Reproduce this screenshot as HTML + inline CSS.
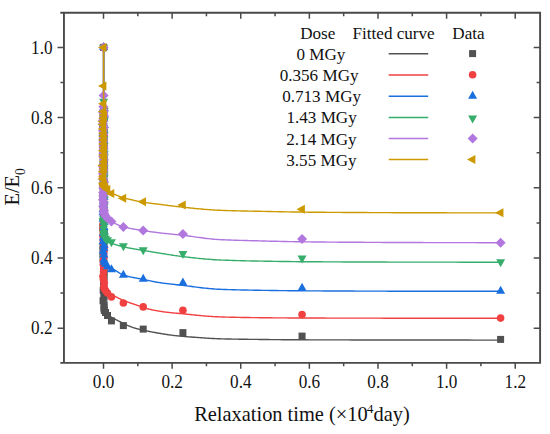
<!DOCTYPE html>
<html><head><meta charset="utf-8"><style>
html,body{margin:0;padding:0;background:#fff;width:550px;height:434px;overflow:hidden}
svg{display:block}
text{font-family:"Liberation Serif",serif}
</style></head><body>
<svg width="550" height="434" viewBox="0 0 550 434">
<rect width="550" height="434" fill="#fff"/>
<g><path d="M103.60 47.40 L103.60 305.50 L103.90 306.00 L103.91 306.03 L103.91 306.06 L103.92 306.09 L103.93 306.12 L103.94 306.16 L103.94 306.19 L103.95 306.22 L103.96 306.26 L103.97 306.29 L103.98 306.32 L103.98 306.36 L103.99 306.40 L104.00 306.43 L104.01 306.47 L104.02 306.51 L104.03 306.54 L104.04 306.58 L104.05 306.62 L104.06 306.66 L104.07 306.70 L104.08 306.74 L104.09 306.78 L104.10 306.82 L104.11 306.86 L104.12 306.90 L104.13 306.94 L104.14 306.99 L104.15 307.03 L104.16 307.07 L104.17 307.12 L104.18 307.16 L104.20 307.20 L104.21 307.25 L104.22 307.29 L104.23 307.34 L104.25 307.39 L104.26 307.43 L104.27 307.48 L104.29 307.53 L104.30 307.57 L104.31 307.62 L104.33 307.67 L104.34 307.72 L104.36 307.77 L104.37 307.82 L104.39 307.87 L104.40 307.92 L104.42 307.97 L104.43 308.02 L104.45 308.07 L104.47 308.12 L104.48 308.17 L104.50 308.22 L104.52 308.28 L104.54 308.33 L104.55 308.38 L104.57 308.43 L104.59 308.49 L104.61 308.54 L104.63 308.59 L104.65 308.65 L104.67 308.70 L104.69 308.76 L104.71 308.81 L104.73 308.87 L104.75 308.92 L104.77 308.98 L104.80 309.03 L104.82 309.09 L104.84 309.15 L104.87 309.20 L104.89 309.26 L104.91 309.32 L104.94 309.37 L104.96 309.43 L104.99 309.49 L105.01 309.55 L105.04 309.61 L105.07 309.66 L105.10 309.72 L105.12 309.78 L105.15 309.84 L105.18 309.90 L105.21 309.96 L105.24 310.02 L105.27 310.08 L105.30 310.14 L105.33 310.20 L105.36 310.26 L105.40 310.32 L105.43 310.38 L105.46 310.44 L105.50 310.50 L105.53 310.56 L105.57 310.62 L105.60 310.68 L105.64 310.75 L105.68 310.81 L105.72 310.88 L105.76 310.94 L105.79 311.01 L105.83 311.08 L105.88 311.15 L105.92 311.22 L105.96 311.29 L106.00 311.36 L106.05 311.43 L106.09 311.50 L106.13 311.58 L106.18 311.65 L106.23 311.73 L106.28 311.80 L106.32 311.88 L106.37 311.95 L106.42 312.03 L106.47 312.11 L106.53 312.19 L106.58 312.27 L106.63 312.34 L106.69 312.42 L106.74 312.50 L106.80 312.58 L106.86 312.67 L106.92 312.75 L106.97 312.83 L107.04 312.91 L107.10 312.99 L107.16 313.07 L107.22 313.16 L107.29 313.24 L107.35 313.32 L107.42 313.41 L107.49 313.49 L107.56 313.57 L107.63 313.66 L107.70 313.74 L107.78 313.83 L107.85 313.92 L107.93 314.01 L108.00 314.10 L108.08 314.19 L108.16 314.28 L108.24 314.37 L108.33 314.47 L108.41 314.56 L108.50 314.65 L108.58 314.75 L108.67 314.84 L108.76 314.94 L108.85 315.04 L108.95 315.13 L109.04 315.23 L109.14 315.33 L109.24 315.43 L109.34 315.52 L109.44 315.62 L109.54 315.72 L109.65 315.82 L109.76 315.91 L109.87 316.01 L109.98 316.11 L110.09 316.21 L110.20 316.30 L110.32 316.40 L110.44 316.50 L110.56 316.59 L110.68 316.69 L110.81 316.78 L110.94 316.88 L111.07 316.97 L111.20 317.06 L111.33 317.15 L111.47 317.25 L111.61 317.34 L111.75 317.42 L111.89 317.51 L112.04 317.60 L112.19 317.68 L112.34 317.77 L112.50 317.86 L112.65 317.94 L112.81 318.03 L112.97 318.11 L113.14 318.20 L113.31 318.28 L113.48 318.37 L113.65 318.46 L113.83 318.55 L114.01 318.64 L114.19 318.74 L114.38 318.83 L114.57 318.93 L114.76 319.03 L114.96 319.13 L115.16 319.24 L115.36 319.34 L115.57 319.45 L115.78 319.56 L115.99 319.67 L116.21 319.78 L116.43 319.90 L116.66 320.01 L116.89 320.13 L117.12 320.25 L117.36 320.37 L117.60 320.50 L117.85 320.62 L118.10 320.75 L118.35 320.88 L118.61 321.01 L118.88 321.14 L119.14 321.27 L119.42 321.41 L119.70 321.55 L119.98 321.69 L120.27 321.83 L120.56 321.98 L120.86 322.13 L121.16 322.29 L121.47 322.45 L121.78 322.61 L122.10 322.78 L122.42 322.95 L122.75 323.13 L123.09 323.30 L123.43 323.48 L123.78 323.66 L124.13 323.84 L124.49 324.02 L124.86 324.20 L125.23 324.37 L125.61 324.55 L126.00 324.73 L126.39 324.91 L126.79 325.08 L127.19 325.26 L127.61 325.43 L128.03 325.61 L128.46 325.79 L128.89 325.97 L129.33 326.15 L129.78 326.33 L130.24 326.51 L130.71 326.69 L131.18 326.86 L131.67 327.04 L132.16 327.21 L132.66 327.39 L133.17 327.56 L133.68 327.72 L134.21 327.89 L134.75 328.06 L135.29 328.22 L135.85 328.38 L136.41 328.55 L136.98 328.71 L137.57 328.87 L138.16 329.03 L138.77 329.19 L139.38 329.35 L140.01 329.50 L140.65 329.66 L141.29 329.81 L141.95 329.96 L142.62 330.11 L143.31 330.26 L144.00 330.41 L144.71 330.55 L145.43 330.70 L146.16 330.85 L146.90 331.00 L147.66 331.15 L148.43 331.30 L149.21 331.45 L150.01 331.60 L150.82 331.76 L151.65 331.91 L152.49 332.07 L153.34 332.23 L154.21 332.39 L155.10 332.55 L156.00 332.71 L156.91 332.88 L157.84 333.04 L158.79 333.20 L159.76 333.36 L160.74 333.52 L161.74 333.69 L162.75 333.85 L163.79 334.02 L164.84 334.19 L165.91 334.35 L167.00 334.52 L168.10 334.69 L169.23 334.85 L170.38 335.01 L171.54 335.17 L172.73 335.33 L173.94 335.47 L175.17 335.62 L176.42 335.76 L177.69 335.89 L178.98 336.03 L180.30 336.15 L181.64 336.28 L183.00 336.40 L184.39 336.52 L185.80 336.63 L187.24 336.74 L188.70 336.85 L190.18 336.96 L191.70 337.07 L193.24 337.18 L194.80 337.29 L196.39 337.40 L198.01 337.51 L199.66 337.64 L201.34 337.76 L203.05 337.88 L204.78 338.00 L206.55 338.13 L208.35 338.24 L210.18 338.36 L212.04 338.46 L213.93 338.56 L215.86 338.65 L217.82 338.73 L219.81 338.79 L221.84 338.85 L223.91 338.90 L226.01 338.95 L228.14 339.00 L230.32 339.04 L232.53 339.09 L234.78 339.13 L237.07 339.16 L239.40 339.20 L241.77 339.23 L244.18 339.27 L246.64 339.30 L249.14 339.33 L251.68 339.36 L254.26 339.39 L256.89 339.42 L259.57 339.45 L262.29 339.48 L265.06 339.52 L267.88 339.55 L270.75 339.58 L273.66 339.60 L276.63 339.63 L279.65 339.66 L282.73 339.68 L285.85 339.71 L289.03 339.73 L292.27 339.75 L295.56 339.77 L298.91 339.79 L302.32 339.80 L305.79 339.81 L309.32 339.83 L312.91 339.84 L316.56 339.85 L320.28 339.86 L324.06 339.87 L327.91 339.88 L331.82 339.89 L335.81 339.90 L339.86 339.91 L343.98 339.91 L348.18 339.92 L352.45 339.93 L356.79 339.94 L361.21 339.94 L365.70 339.95 L370.28 339.96 L374.93 339.97 L379.67 339.97 L384.48 339.98 L389.39 339.99 L394.37 339.99 L399.45 340.00 L404.61 340.01 L409.86 340.01 L415.21 340.02 L420.65 340.03 L426.18 340.03 L431.81 340.04 L437.53 340.05 L443.36 340.05 L449.29 340.06 L455.32 340.06 L461.46 340.07 L467.70 340.07 L474.06 340.08 L480.52 340.09 L487.10 340.09 L493.79 340.10 L500.60 340.10" fill="none" stroke="#515151" stroke-width="1.4" stroke-linejoin="round"/>
<rect x="100.10" y="43.90" width="7" height="7" fill="#515151"/>
<rect x="100.17" y="106.83" width="7" height="7" fill="#515151"/>
<rect x="99.81" y="110.12" width="7" height="7" fill="#515151"/>
<rect x="100.65" y="114.33" width="7" height="7" fill="#515151"/>
<rect x="99.58" y="116.83" width="7" height="7" fill="#515151"/>
<rect x="99.47" y="120.81" width="7" height="7" fill="#515151"/>
<rect x="99.44" y="124.43" width="7" height="7" fill="#515151"/>
<rect x="100.31" y="127.75" width="7" height="7" fill="#515151"/>
<rect x="100.35" y="131.85" width="7" height="7" fill="#515151"/>
<rect x="99.43" y="135.39" width="7" height="7" fill="#515151"/>
<rect x="99.76" y="138.76" width="7" height="7" fill="#515151"/>
<rect x="99.80" y="142.81" width="7" height="7" fill="#515151"/>
<rect x="100.02" y="145.55" width="7" height="7" fill="#515151"/>
<rect x="100.16" y="150.15" width="7" height="7" fill="#515151"/>
<rect x="99.83" y="152.86" width="7" height="7" fill="#515151"/>
<rect x="99.94" y="157.60" width="7" height="7" fill="#515151"/>
<rect x="100.77" y="160.78" width="7" height="7" fill="#515151"/>
<rect x="100.66" y="164.65" width="7" height="7" fill="#515151"/>
<rect x="99.93" y="167.05" width="7" height="7" fill="#515151"/>
<rect x="100.31" y="171.39" width="7" height="7" fill="#515151"/>
<rect x="99.91" y="174.46" width="7" height="7" fill="#515151"/>
<rect x="99.97" y="178.45" width="7" height="7" fill="#515151"/>
<rect x="99.78" y="181.77" width="7" height="7" fill="#515151"/>
<rect x="100.04" y="186.28" width="7" height="7" fill="#515151"/>
<rect x="100.22" y="188.95" width="7" height="7" fill="#515151"/>
<rect x="99.79" y="192.83" width="7" height="7" fill="#515151"/>
<rect x="99.69" y="196.02" width="7" height="7" fill="#515151"/>
<rect x="100.12" y="199.44" width="7" height="7" fill="#515151"/>
<rect x="100.08" y="203.48" width="7" height="7" fill="#515151"/>
<rect x="100.39" y="207.69" width="7" height="7" fill="#515151"/>
<rect x="100.37" y="211.20" width="7" height="7" fill="#515151"/>
<rect x="99.92" y="214.77" width="7" height="7" fill="#515151"/>
<rect x="99.88" y="218.22" width="7" height="7" fill="#515151"/>
<rect x="99.86" y="221.61" width="7" height="7" fill="#515151"/>
<rect x="99.49" y="224.89" width="7" height="7" fill="#515151"/>
<rect x="100.76" y="228.47" width="7" height="7" fill="#515151"/>
<rect x="100.37" y="232.74" width="7" height="7" fill="#515151"/>
<rect x="100.41" y="236.06" width="7" height="7" fill="#515151"/>
<rect x="100.24" y="239.01" width="7" height="7" fill="#515151"/>
<rect x="99.50" y="242.82" width="7" height="7" fill="#515151"/>
<rect x="99.61" y="246.26" width="7" height="7" fill="#515151"/>
<rect x="99.58" y="250.59" width="7" height="7" fill="#515151"/>
<rect x="99.66" y="254.82" width="7" height="7" fill="#515151"/>
<rect x="100.35" y="257.77" width="7" height="7" fill="#515151"/>
<rect x="100.39" y="260.92" width="7" height="7" fill="#515151"/>
<rect x="100.70" y="265.44" width="7" height="7" fill="#515151"/>
<rect x="100.42" y="268.47" width="7" height="7" fill="#515151"/>
<rect x="100.58" y="272.49" width="7" height="7" fill="#515151"/>
<rect x="100.32" y="276.36" width="7" height="7" fill="#515151"/>
<rect x="100.29" y="279.09" width="7" height="7" fill="#515151"/>
<rect x="100.17" y="282.41" width="7" height="7" fill="#515151"/>
<rect x="99.67" y="286.86" width="7" height="7" fill="#515151"/>
<rect x="100.50" y="290.86" width="7" height="7" fill="#515151"/>
<rect x="100.59" y="293.77" width="7" height="7" fill="#515151"/>
<rect x="99.53" y="297.28" width="7" height="7" fill="#515151"/>
<rect x="100.70" y="301.36" width="7" height="7" fill="#515151"/>
<rect x="100.40" y="304.50" width="7" height="7" fill="#515151"/>
<rect x="100.80" y="307.00" width="7" height="7" fill="#515151"/>
<rect x="102.00" y="309.00" width="7" height="7" fill="#515151"/>
<rect x="104.00" y="312.00" width="7" height="7" fill="#515151"/>
<rect x="107.94" y="317.40" width="7" height="7" fill="#515151"/>
<rect x="119.86" y="322.10" width="7" height="7" fill="#515151"/>
<rect x="139.71" y="325.60" width="7" height="7" fill="#515151"/>
<rect x="179.42" y="329.10" width="7" height="7" fill="#515151"/>
<rect x="298.55" y="332.60" width="7" height="7" fill="#515151"/>
<rect x="497.11" y="335.90" width="7" height="7" fill="#515151"/>
<path d="M103.60 47.40 L103.60 286.50 L103.90 287.00 L103.91 287.01 L103.91 287.03 L103.92 287.05 L103.93 287.06 L103.94 287.08 L103.94 287.10 L103.95 287.12 L103.96 287.13 L103.97 287.15 L103.98 287.17 L103.98 287.19 L103.99 287.21 L104.00 287.23 L104.01 287.25 L104.02 287.28 L104.03 287.30 L104.04 287.32 L104.05 287.34 L104.06 287.37 L104.07 287.39 L104.08 287.42 L104.09 287.44 L104.10 287.47 L104.11 287.49 L104.12 287.52 L104.13 287.55 L104.14 287.57 L104.15 287.60 L104.16 287.63 L104.17 287.66 L104.18 287.68 L104.20 287.71 L104.21 287.74 L104.22 287.77 L104.23 287.80 L104.25 287.83 L104.26 287.86 L104.27 287.89 L104.29 287.92 L104.30 287.96 L104.31 287.99 L104.33 288.02 L104.34 288.05 L104.36 288.09 L104.37 288.12 L104.39 288.15 L104.40 288.19 L104.42 288.22 L104.43 288.26 L104.45 288.29 L104.47 288.33 L104.48 288.36 L104.50 288.40 L104.52 288.43 L104.54 288.47 L104.55 288.51 L104.57 288.54 L104.59 288.58 L104.61 288.62 L104.63 288.65 L104.65 288.69 L104.67 288.73 L104.69 288.77 L104.71 288.81 L104.73 288.85 L104.75 288.88 L104.77 288.92 L104.80 288.96 L104.82 289.00 L104.84 289.04 L104.87 289.08 L104.89 289.12 L104.91 289.16 L104.94 289.20 L104.96 289.24 L104.99 289.28 L105.01 289.32 L105.04 289.37 L105.07 289.41 L105.10 289.45 L105.12 289.49 L105.15 289.53 L105.18 289.57 L105.21 289.62 L105.24 289.66 L105.27 289.70 L105.30 289.74 L105.33 289.78 L105.36 289.83 L105.40 289.87 L105.43 289.91 L105.46 289.95 L105.50 290.00 L105.53 290.04 L105.57 290.09 L105.60 290.13 L105.64 290.18 L105.68 290.23 L105.72 290.28 L105.76 290.33 L105.79 290.38 L105.83 290.43 L105.88 290.48 L105.92 290.54 L105.96 290.59 L106.00 290.65 L106.05 290.70 L106.09 290.76 L106.13 290.82 L106.18 290.88 L106.23 290.94 L106.28 291.00 L106.32 291.06 L106.37 291.12 L106.42 291.18 L106.47 291.24 L106.53 291.30 L106.58 291.36 L106.63 291.42 L106.69 291.49 L106.74 291.55 L106.80 291.61 L106.86 291.67 L106.92 291.74 L106.97 291.80 L107.04 291.86 L107.10 291.92 L107.16 291.99 L107.22 292.05 L107.29 292.11 L107.35 292.17 L107.42 292.23 L107.49 292.29 L107.56 292.35 L107.63 292.41 L107.70 292.47 L107.78 292.53 L107.85 292.59 L107.93 292.65 L108.00 292.72 L108.08 292.78 L108.16 292.84 L108.24 292.90 L108.33 292.96 L108.41 293.02 L108.50 293.08 L108.58 293.15 L108.67 293.21 L108.76 293.27 L108.85 293.33 L108.95 293.39 L109.04 293.46 L109.14 293.52 L109.24 293.58 L109.34 293.65 L109.44 293.71 L109.54 293.77 L109.65 293.84 L109.76 293.90 L109.87 293.97 L109.98 294.03 L110.09 294.10 L110.20 294.16 L110.32 294.23 L110.44 294.29 L110.56 294.36 L110.68 294.43 L110.81 294.49 L110.94 294.56 L111.07 294.63 L111.20 294.70 L111.33 294.77 L111.47 294.83 L111.61 294.90 L111.75 294.97 L111.89 295.04 L112.04 295.10 L112.19 295.17 L112.34 295.24 L112.50 295.31 L112.65 295.38 L112.81 295.44 L112.97 295.51 L113.14 295.58 L113.31 295.66 L113.48 295.73 L113.65 295.80 L113.83 295.88 L114.01 295.96 L114.19 296.04 L114.38 296.12 L114.57 296.20 L114.76 296.29 L114.96 296.38 L115.16 296.47 L115.36 296.57 L115.57 296.67 L115.78 296.77 L115.99 296.87 L116.21 296.98 L116.43 297.09 L116.66 297.20 L116.89 297.31 L117.12 297.43 L117.36 297.55 L117.60 297.67 L117.85 297.79 L118.10 297.92 L118.35 298.04 L118.61 298.17 L118.88 298.30 L119.14 298.43 L119.42 298.57 L119.70 298.70 L119.98 298.84 L120.27 298.98 L120.56 299.12 L120.86 299.26 L121.16 299.40 L121.47 299.54 L121.78 299.68 L122.10 299.82 L122.42 299.97 L122.75 300.11 L123.09 300.26 L123.43 300.40 L123.78 300.55 L124.13 300.70 L124.49 300.84 L124.86 300.99 L125.23 301.14 L125.61 301.28 L126.00 301.43 L126.39 301.58 L126.79 301.72 L127.19 301.87 L127.61 302.02 L128.03 302.16 L128.46 302.31 L128.89 302.46 L129.33 302.61 L129.78 302.76 L130.24 302.91 L130.71 303.07 L131.18 303.23 L131.67 303.39 L132.16 303.55 L132.66 303.72 L133.17 303.89 L133.68 304.06 L134.21 304.23 L134.75 304.41 L135.29 304.60 L135.85 304.79 L136.41 305.00 L136.98 305.21 L137.57 305.43 L138.16 305.65 L138.77 305.88 L139.38 306.11 L140.01 306.34 L140.65 306.58 L141.29 306.82 L141.95 307.05 L142.62 307.28 L143.31 307.51 L144.00 307.74 L144.71 307.96 L145.43 308.17 L146.16 308.38 L146.90 308.57 L147.66 308.77 L148.43 308.96 L149.21 309.14 L150.01 309.33 L150.82 309.51 L151.65 309.70 L152.49 309.88 L153.34 310.06 L154.21 310.23 L155.10 310.40 L156.00 310.58 L156.91 310.74 L157.84 310.91 L158.79 311.07 L159.76 311.23 L160.74 311.39 L161.74 311.54 L162.75 311.69 L163.79 311.84 L164.84 311.98 L165.91 312.12 L167.00 312.25 L168.10 312.38 L169.23 312.50 L170.38 312.62 L171.54 312.74 L172.73 312.85 L173.94 312.97 L175.17 313.08 L176.42 313.20 L177.69 313.31 L178.98 313.43 L180.30 313.55 L181.64 313.67 L183.00 313.80 L184.39 313.93 L185.80 314.07 L187.24 314.22 L188.70 314.37 L190.18 314.53 L191.70 314.69 L193.24 314.86 L194.80 315.02 L196.39 315.18 L198.01 315.35 L199.66 315.51 L201.34 315.67 L203.05 315.83 L204.78 315.98 L206.55 316.12 L208.35 316.26 L210.18 316.39 L212.04 316.51 L213.93 316.63 L215.86 316.73 L217.82 316.82 L219.81 316.89 L221.84 316.96 L223.91 317.03 L226.01 317.09 L228.14 317.15 L230.32 317.20 L232.53 317.26 L234.78 317.31 L237.07 317.35 L239.40 317.40 L241.77 317.44 L244.18 317.49 L246.64 317.53 L249.14 317.56 L251.68 317.60 L254.26 317.63 L256.89 317.66 L259.57 317.70 L262.29 317.72 L265.06 317.75 L267.88 317.78 L270.75 317.81 L273.66 317.83 L276.63 317.85 L279.65 317.88 L282.73 317.90 L285.85 317.92 L289.03 317.94 L292.27 317.96 L295.56 317.97 L298.91 317.99 L302.32 318.00 L305.79 318.01 L309.32 318.03 L312.91 318.04 L316.56 318.05 L320.28 318.06 L324.06 318.07 L327.91 318.08 L331.82 318.09 L335.81 318.10 L339.86 318.10 L343.98 318.11 L348.18 318.12 L352.45 318.13 L356.79 318.14 L361.21 318.14 L365.70 318.15 L370.28 318.16 L374.93 318.16 L379.67 318.17 L384.48 318.18 L389.39 318.19 L394.37 318.19 L399.45 318.20 L404.61 318.21 L409.86 318.21 L415.21 318.22 L420.65 318.23 L426.18 318.23 L431.81 318.24 L437.53 318.25 L443.36 318.25 L449.29 318.26 L455.32 318.26 L461.46 318.27 L467.70 318.27 L474.06 318.28 L480.52 318.29 L487.10 318.29 L493.79 318.30 L500.60 318.30" fill="none" stroke="#F14040" stroke-width="1.4" stroke-linejoin="round"/>
<circle cx="103.60" cy="47.40" r="3.8" fill="#F14040"/>
<circle cx="103.98" cy="109.23" r="3.8" fill="#F14040"/>
<circle cx="103.79" cy="114.00" r="3.8" fill="#F14040"/>
<circle cx="103.60" cy="116.76" r="3.8" fill="#F14040"/>
<circle cx="103.18" cy="121.22" r="3.8" fill="#F14040"/>
<circle cx="103.14" cy="123.74" r="3.8" fill="#F14040"/>
<circle cx="103.86" cy="128.73" r="3.8" fill="#F14040"/>
<circle cx="102.91" cy="131.62" r="3.8" fill="#F14040"/>
<circle cx="104.04" cy="135.38" r="3.8" fill="#F14040"/>
<circle cx="103.91" cy="138.47" r="3.8" fill="#F14040"/>
<circle cx="104.18" cy="142.74" r="3.8" fill="#F14040"/>
<circle cx="103.66" cy="145.43" r="3.8" fill="#F14040"/>
<circle cx="103.42" cy="149.88" r="3.8" fill="#F14040"/>
<circle cx="103.52" cy="153.09" r="3.8" fill="#F14040"/>
<circle cx="103.76" cy="156.82" r="3.8" fill="#F14040"/>
<circle cx="103.81" cy="160.56" r="3.8" fill="#F14040"/>
<circle cx="104.03" cy="164.03" r="3.8" fill="#F14040"/>
<circle cx="104.17" cy="167.31" r="3.8" fill="#F14040"/>
<circle cx="103.03" cy="170.88" r="3.8" fill="#F14040"/>
<circle cx="103.06" cy="175.33" r="3.8" fill="#F14040"/>
<circle cx="102.97" cy="178.60" r="3.8" fill="#F14040"/>
<circle cx="103.67" cy="182.51" r="3.8" fill="#F14040"/>
<circle cx="103.18" cy="186.17" r="3.8" fill="#F14040"/>
<circle cx="103.39" cy="189.61" r="3.8" fill="#F14040"/>
<circle cx="103.31" cy="193.41" r="3.8" fill="#F14040"/>
<circle cx="103.36" cy="195.86" r="3.8" fill="#F14040"/>
<circle cx="103.45" cy="199.35" r="3.8" fill="#F14040"/>
<circle cx="104.05" cy="203.04" r="3.8" fill="#F14040"/>
<circle cx="103.44" cy="207.91" r="3.8" fill="#F14040"/>
<circle cx="104.28" cy="210.73" r="3.8" fill="#F14040"/>
<circle cx="104.06" cy="214.00" r="3.8" fill="#F14040"/>
<circle cx="103.74" cy="218.64" r="3.8" fill="#F14040"/>
<circle cx="103.65" cy="221.74" r="3.8" fill="#F14040"/>
<circle cx="102.95" cy="224.97" r="3.8" fill="#F14040"/>
<circle cx="103.01" cy="228.49" r="3.8" fill="#F14040"/>
<circle cx="103.36" cy="232.84" r="3.8" fill="#F14040"/>
<circle cx="102.96" cy="235.89" r="3.8" fill="#F14040"/>
<circle cx="103.34" cy="239.82" r="3.8" fill="#F14040"/>
<circle cx="103.38" cy="242.47" r="3.8" fill="#F14040"/>
<circle cx="104.13" cy="247.22" r="3.8" fill="#F14040"/>
<circle cx="104.13" cy="250.27" r="3.8" fill="#F14040"/>
<circle cx="103.75" cy="254.02" r="3.8" fill="#F14040"/>
<circle cx="103.74" cy="257.22" r="3.8" fill="#F14040"/>
<circle cx="103.32" cy="260.44" r="3.8" fill="#F14040"/>
<circle cx="103.32" cy="264.39" r="3.8" fill="#F14040"/>
<circle cx="103.68" cy="268.50" r="3.8" fill="#F14040"/>
<circle cx="103.57" cy="271.67" r="3.8" fill="#F14040"/>
<circle cx="102.99" cy="276.37" r="3.8" fill="#F14040"/>
<circle cx="103.38" cy="279.19" r="3.8" fill="#F14040"/>
<circle cx="104.27" cy="282.71" r="3.8" fill="#F14040"/>
<circle cx="103.90" cy="286.50" r="3.8" fill="#F14040"/>
<circle cx="104.30" cy="288.50" r="3.8" fill="#F14040"/>
<circle cx="105.50" cy="290.50" r="3.8" fill="#F14040"/>
<circle cx="107.50" cy="293.00" r="3.8" fill="#F14040"/>
<circle cx="111.44" cy="296.90" r="3.8" fill="#F14040"/>
<circle cx="123.36" cy="303.00" r="3.8" fill="#F14040"/>
<circle cx="143.21" cy="306.90" r="3.8" fill="#F14040"/>
<circle cx="182.92" cy="310.30" r="3.8" fill="#F14040"/>
<circle cx="302.05" cy="314.60" r="3.8" fill="#F14040"/>
<circle cx="500.61" cy="318.10" r="3.8" fill="#F14040"/>
<path d="M103.60 47.40 L103.60 261.00 L103.90 261.50 L103.91 261.51 L103.91 261.53 L103.92 261.54 L103.93 261.55 L103.94 261.57 L103.94 261.58 L103.95 261.60 L103.96 261.62 L103.97 261.63 L103.98 261.65 L103.98 261.67 L103.99 261.69 L104.00 261.70 L104.01 261.72 L104.02 261.74 L104.03 261.76 L104.04 261.78 L104.05 261.80 L104.06 261.82 L104.07 261.85 L104.08 261.87 L104.09 261.89 L104.10 261.91 L104.11 261.94 L104.12 261.96 L104.13 261.98 L104.14 262.01 L104.15 262.03 L104.16 262.06 L104.17 262.08 L104.18 262.11 L104.20 262.13 L104.21 262.16 L104.22 262.19 L104.23 262.21 L104.25 262.24 L104.26 262.27 L104.27 262.29 L104.29 262.32 L104.30 262.35 L104.31 262.38 L104.33 262.41 L104.34 262.44 L104.36 262.47 L104.37 262.50 L104.39 262.53 L104.40 262.56 L104.42 262.59 L104.43 262.62 L104.45 262.65 L104.47 262.69 L104.48 262.72 L104.50 262.75 L104.52 262.78 L104.54 262.81 L104.55 262.85 L104.57 262.88 L104.59 262.91 L104.61 262.95 L104.63 262.98 L104.65 263.02 L104.67 263.05 L104.69 263.09 L104.71 263.12 L104.73 263.15 L104.75 263.19 L104.77 263.23 L104.80 263.26 L104.82 263.30 L104.84 263.33 L104.87 263.37 L104.89 263.40 L104.91 263.44 L104.94 263.48 L104.96 263.51 L104.99 263.55 L105.01 263.59 L105.04 263.63 L105.07 263.66 L105.10 263.70 L105.12 263.74 L105.15 263.78 L105.18 263.81 L105.21 263.85 L105.24 263.89 L105.27 263.93 L105.30 263.97 L105.33 264.00 L105.36 264.04 L105.40 264.08 L105.43 264.12 L105.46 264.16 L105.50 264.20 L105.53 264.24 L105.57 264.28 L105.60 264.32 L105.64 264.36 L105.68 264.41 L105.72 264.45 L105.76 264.50 L105.79 264.54 L105.83 264.59 L105.88 264.64 L105.92 264.69 L105.96 264.74 L106.00 264.79 L106.05 264.84 L106.09 264.89 L106.13 264.95 L106.18 265.00 L106.23 265.05 L106.28 265.11 L106.32 265.16 L106.37 265.22 L106.42 265.27 L106.47 265.33 L106.53 265.39 L106.58 265.44 L106.63 265.50 L106.69 265.56 L106.74 265.61 L106.80 265.67 L106.86 265.73 L106.92 265.78 L106.97 265.84 L107.04 265.90 L107.10 265.95 L107.16 266.01 L107.22 266.07 L107.29 266.12 L107.35 266.18 L107.42 266.24 L107.49 266.29 L107.56 266.35 L107.63 266.40 L107.70 266.46 L107.78 266.51 L107.85 266.57 L107.93 266.62 L108.00 266.68 L108.08 266.73 L108.16 266.79 L108.24 266.84 L108.33 266.90 L108.41 266.96 L108.50 267.01 L108.58 267.07 L108.67 267.12 L108.76 267.18 L108.85 267.24 L108.95 267.29 L109.04 267.35 L109.14 267.41 L109.24 267.47 L109.34 267.52 L109.44 267.58 L109.54 267.64 L109.65 267.70 L109.76 267.76 L109.87 267.82 L109.98 267.88 L110.09 267.94 L110.20 268.00 L110.32 268.06 L110.44 268.12 L110.56 268.18 L110.68 268.25 L110.81 268.31 L110.94 268.37 L111.07 268.44 L111.20 268.50 L111.33 268.57 L111.47 268.63 L111.61 268.70 L111.75 268.76 L111.89 268.83 L112.04 268.89 L112.19 268.96 L112.34 269.02 L112.50 269.09 L112.65 269.16 L112.81 269.22 L112.97 269.29 L113.14 269.36 L113.31 269.43 L113.48 269.51 L113.65 269.58 L113.83 269.66 L114.01 269.74 L114.19 269.82 L114.38 269.91 L114.57 269.99 L114.76 270.09 L114.96 270.18 L115.16 270.28 L115.36 270.39 L115.57 270.50 L115.78 270.62 L115.99 270.75 L116.21 270.89 L116.43 271.03 L116.66 271.17 L116.89 271.32 L117.12 271.48 L117.36 271.64 L117.60 271.80 L117.85 271.96 L118.10 272.13 L118.35 272.30 L118.61 272.47 L118.88 272.64 L119.14 272.81 L119.42 272.98 L119.70 273.15 L119.98 273.32 L120.27 273.49 L120.56 273.66 L120.86 273.82 L121.16 273.99 L121.47 274.15 L121.78 274.30 L122.10 274.45 L122.42 274.60 L122.75 274.74 L123.09 274.88 L123.43 275.01 L123.78 275.14 L124.13 275.26 L124.49 275.38 L124.86 275.50 L125.23 275.62 L125.61 275.73 L126.00 275.84 L126.39 275.95 L126.79 276.06 L127.19 276.17 L127.61 276.27 L128.03 276.38 L128.46 276.48 L128.89 276.58 L129.33 276.68 L129.78 276.79 L130.24 276.89 L130.71 276.99 L131.18 277.08 L131.67 277.18 L132.16 277.28 L132.66 277.38 L133.17 277.49 L133.68 277.59 L134.21 277.69 L134.75 277.79 L135.29 277.90 L135.85 278.00 L136.41 278.11 L136.98 278.22 L137.57 278.33 L138.16 278.44 L138.77 278.55 L139.38 278.67 L140.01 278.79 L140.65 278.91 L141.29 279.03 L141.95 279.16 L142.62 279.29 L143.31 279.42 L144.00 279.56 L144.71 279.70 L145.43 279.85 L146.16 280.01 L146.90 280.17 L147.66 280.33 L148.43 280.50 L149.21 280.66 L150.01 280.83 L150.82 281.01 L151.65 281.18 L152.49 281.35 L153.34 281.52 L154.21 281.69 L155.10 281.86 L156.00 282.03 L156.91 282.19 L157.84 282.35 L158.79 282.51 L159.76 282.66 L160.74 282.81 L161.74 282.95 L162.75 283.09 L163.79 283.23 L164.84 283.37 L165.91 283.50 L167.00 283.63 L168.10 283.76 L169.23 283.89 L170.38 284.02 L171.54 284.15 L172.73 284.28 L173.94 284.41 L175.17 284.55 L176.42 284.68 L177.69 284.82 L178.98 284.96 L180.30 285.10 L181.64 285.25 L183.00 285.40 L184.39 285.56 L185.80 285.73 L187.24 285.91 L188.70 286.10 L190.18 286.29 L191.70 286.49 L193.24 286.70 L194.80 286.91 L196.39 287.11 L198.01 287.32 L199.66 287.53 L201.34 287.73 L203.05 287.93 L204.78 288.12 L206.55 288.31 L208.35 288.49 L210.18 288.65 L212.04 288.81 L213.93 288.95 L215.86 289.08 L217.82 289.20 L219.81 289.29 L221.84 289.38 L223.91 289.46 L226.01 289.53 L228.14 289.60 L230.32 289.67 L232.53 289.73 L234.78 289.80 L237.07 289.85 L239.40 289.91 L241.77 289.96 L244.18 290.01 L246.64 290.06 L249.14 290.11 L251.68 290.16 L254.26 290.20 L256.89 290.25 L259.57 290.29 L262.29 290.34 L265.06 290.38 L267.88 290.42 L270.75 290.47 L273.66 290.51 L276.63 290.55 L279.65 290.58 L282.73 290.62 L285.85 290.66 L289.03 290.69 L292.27 290.72 L295.56 290.75 L298.91 290.78 L302.32 290.80 L305.79 290.83 L309.32 290.85 L312.91 290.87 L316.56 290.89 L320.28 290.92 L324.06 290.94 L327.91 290.96 L331.82 290.98 L335.81 291.00 L339.86 291.02 L343.98 291.04 L348.18 291.05 L352.45 291.07 L356.79 291.09 L361.21 291.10 L365.70 291.12 L370.28 291.13 L374.93 291.14 L379.67 291.16 L384.48 291.17 L389.39 291.18 L394.37 291.19 L399.45 291.20 L404.61 291.21 L409.86 291.22 L415.21 291.22 L420.65 291.23 L426.18 291.24 L431.81 291.25 L437.53 291.26 L443.36 291.26 L449.29 291.27 L455.32 291.27 L461.46 291.28 L467.70 291.29 L474.06 291.29 L480.52 291.29 L487.10 291.30 L493.79 291.30 L500.60 291.30" fill="none" stroke="#1A6FDF" stroke-width="1.4" stroke-linejoin="round"/>
<path d="M103.60 42.07L108.10 50.07L99.10 50.07Z" fill="#1A6FDF"/>
<path d="M103.31 102.72L107.81 110.72L98.81 110.72Z" fill="#1A6FDF"/>
<path d="M103.17 105.58L107.67 113.58L98.67 113.58Z" fill="#1A6FDF"/>
<path d="M104.00 110.12L108.50 118.12L99.50 118.12Z" fill="#1A6FDF"/>
<path d="M103.79 113.59L108.29 121.59L99.29 121.59Z" fill="#1A6FDF"/>
<path d="M102.95 116.84L107.45 124.84L98.45 124.84Z" fill="#1A6FDF"/>
<path d="M104.22 119.96L108.72 127.96L99.72 127.96Z" fill="#1A6FDF"/>
<path d="M104.11 124.87L108.61 132.87L99.61 132.87Z" fill="#1A6FDF"/>
<path d="M102.97 128.11L107.47 136.11L98.47 136.11Z" fill="#1A6FDF"/>
<path d="M103.67 131.62L108.17 139.62L99.17 139.62Z" fill="#1A6FDF"/>
<path d="M103.58 134.72L108.08 142.72L99.08 142.72Z" fill="#1A6FDF"/>
<path d="M103.32 138.77L107.82 146.77L98.82 146.77Z" fill="#1A6FDF"/>
<path d="M103.45 142.73L107.95 150.73L98.95 150.73Z" fill="#1A6FDF"/>
<path d="M103.49 145.30L107.99 153.30L98.99 153.30Z" fill="#1A6FDF"/>
<path d="M103.11 148.76L107.61 156.76L98.61 156.76Z" fill="#1A6FDF"/>
<path d="M103.91 152.73L108.41 160.73L99.41 160.73Z" fill="#1A6FDF"/>
<path d="M103.18 157.20L107.68 165.20L98.68 165.20Z" fill="#1A6FDF"/>
<path d="M103.70 159.60L108.20 167.60L99.20 167.60Z" fill="#1A6FDF"/>
<path d="M103.66 163.32L108.16 171.32L99.16 171.32Z" fill="#1A6FDF"/>
<path d="M103.85 166.86L108.35 174.86L99.35 174.86Z" fill="#1A6FDF"/>
<path d="M103.52 171.69L108.02 179.69L99.02 179.69Z" fill="#1A6FDF"/>
<path d="M104.02 173.98L108.52 181.98L99.52 181.98Z" fill="#1A6FDF"/>
<path d="M104.25 178.52L108.75 186.52L99.75 186.52Z" fill="#1A6FDF"/>
<path d="M103.91 182.26L108.41 190.26L99.41 190.26Z" fill="#1A6FDF"/>
<path d="M104.14 184.88L108.64 192.88L99.64 192.88Z" fill="#1A6FDF"/>
<path d="M103.99 189.61L108.49 197.61L99.49 197.61Z" fill="#1A6FDF"/>
<path d="M104.06 191.91L108.56 199.91L99.56 199.91Z" fill="#1A6FDF"/>
<path d="M103.45 196.17L107.95 204.17L98.95 204.17Z" fill="#1A6FDF"/>
<path d="M103.63 199.86L108.13 207.86L99.13 207.86Z" fill="#1A6FDF"/>
<path d="M103.08 204.24L107.58 212.24L98.58 212.24Z" fill="#1A6FDF"/>
<path d="M102.99 207.19L107.49 215.19L98.49 215.19Z" fill="#1A6FDF"/>
<path d="M103.71 211.39L108.21 219.39L99.21 219.39Z" fill="#1A6FDF"/>
<path d="M103.18 213.60L107.68 221.60L98.68 221.60Z" fill="#1A6FDF"/>
<path d="M104.14 217.09L108.64 225.09L99.64 225.09Z" fill="#1A6FDF"/>
<path d="M104.01 221.90L108.51 229.90L99.51 229.90Z" fill="#1A6FDF"/>
<path d="M104.12 225.73L108.62 233.73L99.62 233.73Z" fill="#1A6FDF"/>
<path d="M103.28 228.24L107.78 236.24L98.78 236.24Z" fill="#1A6FDF"/>
<path d="M103.33 232.61L107.83 240.61L98.83 240.61Z" fill="#1A6FDF"/>
<path d="M103.02 236.15L107.52 244.15L98.52 244.15Z" fill="#1A6FDF"/>
<path d="M104.10 239.78L108.60 247.78L99.60 247.78Z" fill="#1A6FDF"/>
<path d="M104.00 242.83L108.50 250.83L99.50 250.83Z" fill="#1A6FDF"/>
<path d="M103.21 246.26L107.71 254.26L98.71 254.26Z" fill="#1A6FDF"/>
<path d="M103.92 249.57L108.42 257.57L99.42 257.57Z" fill="#1A6FDF"/>
<path d="M103.90 254.67L108.40 262.67L99.40 262.67Z" fill="#1A6FDF"/>
<path d="M104.30 256.67L108.80 264.67L99.80 264.67Z" fill="#1A6FDF"/>
<path d="M105.50 258.67L110.00 266.67L101.00 266.67Z" fill="#1A6FDF"/>
<path d="M107.50 261.17L112.00 269.17L103.00 269.17Z" fill="#1A6FDF"/>
<path d="M111.44 264.37L115.94 272.37L106.94 272.37Z" fill="#1A6FDF"/>
<path d="M123.36 269.87L127.86 277.87L118.86 277.87Z" fill="#1A6FDF"/>
<path d="M143.21 273.67L147.71 281.67L138.71 281.67Z" fill="#1A6FDF"/>
<path d="M182.92 277.57L187.42 285.57L178.42 285.57Z" fill="#1A6FDF"/>
<path d="M302.05 282.67L306.55 290.67L297.55 290.67Z" fill="#1A6FDF"/>
<path d="M500.61 285.77L505.11 293.77L496.11 293.77Z" fill="#1A6FDF"/>
<path d="M103.60 47.40 L103.60 236.00 L103.90 236.50 L103.91 236.51 L103.91 236.53 L103.92 236.54 L103.93 236.56 L103.94 236.58 L103.94 236.59 L103.95 236.61 L103.96 236.63 L103.97 236.64 L103.98 236.66 L103.98 236.68 L103.99 236.70 L104.00 236.72 L104.01 236.73 L104.02 236.75 L104.03 236.77 L104.04 236.79 L104.05 236.81 L104.06 236.83 L104.07 236.86 L104.08 236.88 L104.09 236.90 L104.10 236.92 L104.11 236.94 L104.12 236.96 L104.13 236.99 L104.14 237.01 L104.15 237.03 L104.16 237.06 L104.17 237.08 L104.18 237.10 L104.20 237.13 L104.21 237.15 L104.22 237.18 L104.23 237.20 L104.25 237.23 L104.26 237.25 L104.27 237.28 L104.29 237.31 L104.30 237.33 L104.31 237.36 L104.33 237.39 L104.34 237.41 L104.36 237.44 L104.37 237.47 L104.39 237.50 L104.40 237.52 L104.42 237.55 L104.43 237.58 L104.45 237.61 L104.47 237.64 L104.48 237.67 L104.50 237.70 L104.52 237.73 L104.54 237.76 L104.55 237.79 L104.57 237.82 L104.59 237.85 L104.61 237.88 L104.63 237.91 L104.65 237.94 L104.67 237.97 L104.69 238.00 L104.71 238.03 L104.73 238.06 L104.75 238.09 L104.77 238.13 L104.80 238.16 L104.82 238.19 L104.84 238.22 L104.87 238.26 L104.89 238.29 L104.91 238.32 L104.94 238.35 L104.96 238.39 L104.99 238.42 L105.01 238.45 L105.04 238.49 L105.07 238.52 L105.10 238.55 L105.12 238.59 L105.15 238.62 L105.18 238.65 L105.21 238.69 L105.24 238.72 L105.27 238.76 L105.30 238.79 L105.33 238.82 L105.36 238.86 L105.40 238.89 L105.43 238.93 L105.46 238.96 L105.50 239.00 L105.53 239.03 L105.57 239.07 L105.60 239.11 L105.64 239.14 L105.68 239.18 L105.72 239.22 L105.76 239.26 L105.79 239.30 L105.83 239.34 L105.88 239.38 L105.92 239.42 L105.96 239.46 L106.00 239.51 L106.05 239.55 L106.09 239.59 L106.13 239.64 L106.18 239.68 L106.23 239.73 L106.28 239.77 L106.32 239.82 L106.37 239.87 L106.42 239.91 L106.47 239.96 L106.53 240.01 L106.58 240.06 L106.63 240.10 L106.69 240.15 L106.74 240.20 L106.80 240.25 L106.86 240.30 L106.92 240.35 L106.97 240.40 L107.04 240.45 L107.10 240.49 L107.16 240.54 L107.22 240.59 L107.29 240.64 L107.35 240.69 L107.42 240.74 L107.49 240.79 L107.56 240.84 L107.63 240.89 L107.70 240.94 L107.78 240.99 L107.85 241.05 L107.93 241.10 L108.00 241.15 L108.08 241.20 L108.16 241.25 L108.24 241.31 L108.33 241.36 L108.41 241.41 L108.50 241.47 L108.58 241.52 L108.67 241.57 L108.76 241.63 L108.85 241.68 L108.95 241.74 L109.04 241.79 L109.14 241.85 L109.24 241.91 L109.34 241.96 L109.44 242.02 L109.54 242.08 L109.65 242.13 L109.76 242.19 L109.87 242.25 L109.98 242.31 L110.09 242.37 L110.20 242.42 L110.32 242.48 L110.44 242.54 L110.56 242.60 L110.68 242.66 L110.81 242.72 L110.94 242.78 L111.07 242.85 L111.20 242.91 L111.33 242.97 L111.47 243.03 L111.61 243.09 L111.75 243.16 L111.89 243.22 L112.04 243.28 L112.19 243.35 L112.34 243.41 L112.50 243.48 L112.65 243.54 L112.81 243.61 L112.97 243.67 L113.14 243.74 L113.31 243.80 L113.48 243.87 L113.65 243.94 L113.83 244.01 L114.01 244.07 L114.19 244.14 L114.38 244.21 L114.57 244.28 L114.76 244.35 L114.96 244.42 L115.16 244.49 L115.36 244.56 L115.57 244.63 L115.78 244.70 L115.99 244.77 L116.21 244.84 L116.43 244.91 L116.66 244.98 L116.89 245.05 L117.12 245.13 L117.36 245.20 L117.60 245.27 L117.85 245.35 L118.10 245.42 L118.35 245.49 L118.61 245.57 L118.88 245.64 L119.14 245.72 L119.42 245.79 L119.70 245.87 L119.98 245.95 L120.27 246.02 L120.56 246.10 L120.86 246.18 L121.16 246.26 L121.47 246.33 L121.78 246.41 L122.10 246.49 L122.42 246.57 L122.75 246.65 L123.09 246.73 L123.43 246.81 L123.78 246.89 L124.13 246.97 L124.49 247.05 L124.86 247.13 L125.23 247.21 L125.61 247.29 L126.00 247.37 L126.39 247.45 L126.79 247.53 L127.19 247.61 L127.61 247.69 L128.03 247.78 L128.46 247.86 L128.89 247.94 L129.33 248.03 L129.78 248.11 L130.24 248.20 L130.71 248.28 L131.18 248.37 L131.67 248.45 L132.16 248.54 L132.66 248.63 L133.17 248.72 L133.68 248.81 L134.21 248.90 L134.75 248.99 L135.29 249.09 L135.85 249.18 L136.41 249.28 L136.98 249.38 L137.57 249.47 L138.16 249.57 L138.77 249.67 L139.38 249.78 L140.01 249.88 L140.65 249.98 L141.29 250.09 L141.95 250.20 L142.62 250.31 L143.31 250.42 L144.00 250.53 L144.71 250.65 L145.43 250.77 L146.16 250.89 L146.90 251.02 L147.66 251.15 L148.43 251.28 L149.21 251.41 L150.01 251.55 L150.82 251.69 L151.65 251.83 L152.49 251.97 L153.34 252.12 L154.21 252.26 L155.10 252.41 L156.00 252.56 L156.91 252.71 L157.84 252.86 L158.79 253.01 L159.76 253.16 L160.74 253.32 L161.74 253.47 L162.75 253.64 L163.79 253.80 L164.84 253.97 L165.91 254.15 L167.00 254.32 L168.10 254.50 L169.23 254.67 L170.38 254.85 L171.54 255.03 L172.73 255.21 L173.94 255.39 L175.17 255.57 L176.42 255.75 L177.69 255.92 L178.98 256.10 L180.30 256.27 L181.64 256.44 L183.00 256.60 L184.39 256.77 L185.80 256.93 L187.24 257.10 L188.70 257.28 L190.18 257.45 L191.70 257.63 L193.24 257.80 L194.80 257.98 L196.39 258.15 L198.01 258.33 L199.66 258.50 L201.34 258.66 L203.05 258.82 L204.78 258.98 L206.55 259.13 L208.35 259.28 L210.18 259.42 L212.04 259.55 L213.93 259.68 L215.86 259.79 L217.82 259.90 L219.81 259.99 L221.84 260.08 L223.91 260.16 L226.01 260.24 L228.14 260.32 L230.32 260.39 L232.53 260.46 L234.78 260.53 L237.07 260.59 L239.40 260.65 L241.77 260.71 L244.18 260.77 L246.64 260.83 L249.14 260.88 L251.68 260.93 L254.26 260.99 L256.89 261.04 L259.57 261.09 L262.29 261.14 L265.06 261.20 L267.88 261.25 L270.75 261.30 L273.66 261.35 L276.63 261.40 L279.65 261.44 L282.73 261.49 L285.85 261.53 L289.03 261.57 L292.27 261.61 L295.56 261.64 L298.91 261.68 L302.32 261.70 L305.79 261.73 L309.32 261.75 L312.91 261.78 L316.56 261.80 L320.28 261.82 L324.06 261.84 L327.91 261.86 L331.82 261.88 L335.81 261.90 L339.86 261.92 L343.98 261.94 L348.18 261.96 L352.45 261.97 L356.79 261.99 L361.21 262.01 L365.70 262.02 L370.28 262.03 L374.93 262.05 L379.67 262.06 L384.48 262.07 L389.39 262.08 L394.37 262.09 L399.45 262.10 L404.61 262.11 L409.86 262.12 L415.21 262.12 L420.65 262.13 L426.18 262.14 L431.81 262.15 L437.53 262.16 L443.36 262.16 L449.29 262.17 L455.32 262.17 L461.46 262.18 L467.70 262.19 L474.06 262.19 L480.52 262.19 L487.10 262.20 L493.79 262.20 L500.60 262.20" fill="none" stroke="#37AD6B" stroke-width="1.4" stroke-linejoin="round"/>
<path d="M103.60 52.73L108.10 44.73L99.10 44.73Z" fill="#37AD6B"/>
<path d="M103.60 106.63L108.10 98.63L99.10 98.63Z" fill="#37AD6B"/>
<path d="M104.24 115.65L108.74 107.65L99.74 107.65Z" fill="#37AD6B"/>
<path d="M104.30 118.49L108.80 110.49L99.80 110.49Z" fill="#37AD6B"/>
<path d="M103.41 122.92L107.91 114.92L98.91 114.92Z" fill="#37AD6B"/>
<path d="M104.30 125.84L108.80 117.84L99.80 117.84Z" fill="#37AD6B"/>
<path d="M103.09 129.55L107.59 121.55L98.59 121.55Z" fill="#37AD6B"/>
<path d="M103.35 133.12L107.85 125.12L98.85 125.12Z" fill="#37AD6B"/>
<path d="M103.89 137.57L108.39 129.57L99.39 129.57Z" fill="#37AD6B"/>
<path d="M103.65 140.13L108.15 132.13L99.15 132.13Z" fill="#37AD6B"/>
<path d="M103.84 144.23L108.34 136.23L99.34 136.23Z" fill="#37AD6B"/>
<path d="M103.66 148.36L108.16 140.36L99.16 140.36Z" fill="#37AD6B"/>
<path d="M104.08 151.02L108.58 143.02L99.58 143.02Z" fill="#37AD6B"/>
<path d="M103.78 155.22L108.28 147.22L99.28 147.22Z" fill="#37AD6B"/>
<path d="M104.26 159.16L108.76 151.16L99.76 151.16Z" fill="#37AD6B"/>
<path d="M104.22 162.36L108.72 154.36L99.72 154.36Z" fill="#37AD6B"/>
<path d="M103.76 165.30L108.26 157.30L99.26 157.30Z" fill="#37AD6B"/>
<path d="M103.58 169.82L108.08 161.82L99.08 161.82Z" fill="#37AD6B"/>
<path d="M104.08 172.99L108.58 164.99L99.58 164.99Z" fill="#37AD6B"/>
<path d="M103.96 176.53L108.46 168.53L99.46 168.53Z" fill="#37AD6B"/>
<path d="M104.09 180.32L108.59 172.32L99.59 172.32Z" fill="#37AD6B"/>
<path d="M104.11 183.30L108.61 175.30L99.61 175.30Z" fill="#37AD6B"/>
<path d="M103.46 187.53L107.96 179.53L98.96 179.53Z" fill="#37AD6B"/>
<path d="M103.10 190.33L107.60 182.33L98.60 182.33Z" fill="#37AD6B"/>
<path d="M103.48 194.62L107.98 186.62L98.98 186.62Z" fill="#37AD6B"/>
<path d="M104.22 197.99L108.72 189.99L99.72 189.99Z" fill="#37AD6B"/>
<path d="M103.93 202.53L108.43 194.53L99.43 194.53Z" fill="#37AD6B"/>
<path d="M104.18 204.54L108.68 196.54L99.68 196.54Z" fill="#37AD6B"/>
<path d="M104.26 209.56L108.76 201.56L99.76 201.56Z" fill="#37AD6B"/>
<path d="M103.88 211.89L108.38 203.89L99.38 203.89Z" fill="#37AD6B"/>
<path d="M103.70 216.65L108.20 208.65L99.20 208.65Z" fill="#37AD6B"/>
<path d="M103.69 219.49L108.19 211.49L99.19 211.49Z" fill="#37AD6B"/>
<path d="M103.66 223.94L108.16 215.94L99.16 215.94Z" fill="#37AD6B"/>
<path d="M103.06 226.18L107.56 218.18L98.56 218.18Z" fill="#37AD6B"/>
<path d="M104.23 230.20L108.73 222.20L99.73 222.20Z" fill="#37AD6B"/>
<path d="M103.52 233.75L108.02 225.75L99.02 225.75Z" fill="#37AD6B"/>
<path d="M103.74 237.98L108.24 229.98L99.24 229.98Z" fill="#37AD6B"/>
<path d="M103.90 240.33L108.40 232.33L99.40 232.33Z" fill="#37AD6B"/>
<path d="M104.30 242.33L108.80 234.33L99.80 234.33Z" fill="#37AD6B"/>
<path d="M105.50 243.83L110.00 235.83L101.00 235.83Z" fill="#37AD6B"/>
<path d="M107.50 245.33L112.00 237.33L103.00 237.33Z" fill="#37AD6B"/>
<path d="M111.44 247.33L115.94 239.33L106.94 239.33Z" fill="#37AD6B"/>
<path d="M123.36 251.33L127.86 243.33L118.86 243.33Z" fill="#37AD6B"/>
<path d="M143.21 255.23L147.71 247.23L138.71 247.23Z" fill="#37AD6B"/>
<path d="M182.92 258.93L187.42 250.93L178.42 250.93Z" fill="#37AD6B"/>
<path d="M302.05 263.53L306.55 255.53L297.55 255.53Z" fill="#37AD6B"/>
<path d="M500.61 267.23L505.11 259.23L496.11 259.23Z" fill="#37AD6B"/>
<path d="M103.60 47.40 L103.60 213.50 L103.90 214.00 L103.91 214.01 L103.91 214.02 L103.92 214.03 L103.93 214.05 L103.94 214.06 L103.94 214.07 L103.95 214.09 L103.96 214.10 L103.97 214.12 L103.98 214.13 L103.98 214.15 L103.99 214.16 L104.00 214.18 L104.01 214.20 L104.02 214.21 L104.03 214.23 L104.04 214.25 L104.05 214.27 L104.06 214.29 L104.07 214.31 L104.08 214.33 L104.09 214.35 L104.10 214.37 L104.11 214.39 L104.12 214.41 L104.13 214.43 L104.14 214.45 L104.15 214.48 L104.16 214.50 L104.17 214.52 L104.18 214.55 L104.20 214.57 L104.21 214.59 L104.22 214.62 L104.23 214.64 L104.25 214.67 L104.26 214.69 L104.27 214.72 L104.29 214.75 L104.30 214.77 L104.31 214.80 L104.33 214.83 L104.34 214.85 L104.36 214.88 L104.37 214.91 L104.39 214.94 L104.40 214.97 L104.42 214.99 L104.43 215.02 L104.45 215.05 L104.47 215.08 L104.48 215.11 L104.50 215.14 L104.52 215.17 L104.54 215.20 L104.55 215.23 L104.57 215.26 L104.59 215.30 L104.61 215.33 L104.63 215.36 L104.65 215.39 L104.67 215.42 L104.69 215.46 L104.71 215.49 L104.73 215.52 L104.75 215.55 L104.77 215.59 L104.80 215.62 L104.82 215.65 L104.84 215.69 L104.87 215.72 L104.89 215.75 L104.91 215.79 L104.94 215.82 L104.96 215.86 L104.99 215.89 L105.01 215.93 L105.04 215.96 L105.07 216.00 L105.10 216.03 L105.12 216.07 L105.15 216.10 L105.18 216.14 L105.21 216.17 L105.24 216.21 L105.27 216.24 L105.30 216.28 L105.33 216.32 L105.36 216.35 L105.40 216.39 L105.43 216.43 L105.46 216.46 L105.50 216.50 L105.53 216.53 L105.57 216.57 L105.60 216.61 L105.64 216.65 L105.68 216.69 L105.72 216.73 L105.76 216.77 L105.79 216.82 L105.83 216.86 L105.88 216.90 L105.92 216.95 L105.96 216.99 L106.00 217.04 L106.05 217.09 L106.09 217.14 L106.13 217.18 L106.18 217.23 L106.23 217.28 L106.28 217.33 L106.32 217.38 L106.37 217.43 L106.42 217.49 L106.47 217.54 L106.53 217.59 L106.58 217.64 L106.63 217.70 L106.69 217.75 L106.74 217.81 L106.80 217.86 L106.86 217.92 L106.92 217.97 L106.97 218.03 L107.04 218.09 L107.10 218.14 L107.16 218.20 L107.22 218.26 L107.29 218.32 L107.35 218.37 L107.42 218.43 L107.49 218.49 L107.56 218.55 L107.63 218.61 L107.70 218.67 L107.78 218.73 L107.85 218.79 L107.93 218.85 L108.00 218.92 L108.08 218.98 L108.16 219.05 L108.24 219.11 L108.33 219.18 L108.41 219.24 L108.50 219.31 L108.58 219.38 L108.67 219.44 L108.76 219.51 L108.85 219.58 L108.95 219.65 L109.04 219.72 L109.14 219.79 L109.24 219.86 L109.34 219.94 L109.44 220.01 L109.54 220.08 L109.65 220.16 L109.76 220.23 L109.87 220.31 L109.98 220.38 L110.09 220.46 L110.20 220.54 L110.32 220.61 L110.44 220.69 L110.56 220.77 L110.68 220.85 L110.81 220.93 L110.94 221.01 L111.07 221.09 L111.20 221.18 L111.33 221.26 L111.47 221.34 L111.61 221.43 L111.75 221.51 L111.89 221.60 L112.04 221.69 L112.19 221.78 L112.34 221.87 L112.50 221.97 L112.65 222.06 L112.81 222.16 L112.97 222.26 L113.14 222.35 L113.31 222.45 L113.48 222.55 L113.65 222.66 L113.83 222.76 L114.01 222.86 L114.19 222.96 L114.38 223.07 L114.57 223.17 L114.76 223.28 L114.96 223.39 L115.16 223.49 L115.36 223.60 L115.57 223.71 L115.78 223.82 L115.99 223.93 L116.21 224.03 L116.43 224.14 L116.66 224.25 L116.89 224.36 L117.12 224.47 L117.36 224.58 L117.60 224.69 L117.85 224.80 L118.10 224.91 L118.35 225.02 L118.61 225.13 L118.88 225.24 L119.14 225.35 L119.42 225.46 L119.70 225.56 L119.98 225.67 L120.27 225.78 L120.56 225.88 L120.86 225.99 L121.16 226.10 L121.47 226.20 L121.78 226.30 L122.10 226.41 L122.42 226.51 L122.75 226.61 L123.09 226.71 L123.43 226.81 L123.78 226.91 L124.13 227.00 L124.49 227.10 L124.86 227.20 L125.23 227.29 L125.61 227.39 L126.00 227.48 L126.39 227.58 L126.79 227.67 L127.19 227.76 L127.61 227.86 L128.03 227.95 L128.46 228.04 L128.89 228.13 L129.33 228.22 L129.78 228.32 L130.24 228.41 L130.71 228.50 L131.18 228.59 L131.67 228.68 L132.16 228.78 L132.66 228.87 L133.17 228.96 L133.68 229.05 L134.21 229.15 L134.75 229.24 L135.29 229.33 L135.85 229.43 L136.41 229.52 L136.98 229.62 L137.57 229.72 L138.16 229.81 L138.77 229.91 L139.38 230.01 L140.01 230.11 L140.65 230.21 L141.29 230.31 L141.95 230.41 L142.62 230.51 L143.31 230.62 L144.00 230.72 L144.71 230.83 L145.43 230.93 L146.16 231.04 L146.90 231.15 L147.66 231.26 L148.43 231.37 L149.21 231.49 L150.01 231.60 L150.82 231.71 L151.65 231.83 L152.49 231.94 L153.34 232.06 L154.21 232.17 L155.10 232.29 L156.00 232.40 L156.91 232.52 L157.84 232.64 L158.79 232.75 L159.76 232.87 L160.74 232.99 L161.74 233.10 L162.75 233.22 L163.79 233.33 L164.84 233.44 L165.91 233.55 L167.00 233.67 L168.10 233.78 L169.23 233.89 L170.38 234.01 L171.54 234.12 L172.73 234.24 L173.94 234.36 L175.17 234.49 L176.42 234.61 L177.69 234.74 L178.98 234.87 L180.30 235.01 L181.64 235.15 L183.00 235.30 L184.39 235.46 L185.80 235.63 L187.24 235.81 L188.70 236.01 L190.18 236.21 L191.70 236.43 L193.24 236.65 L194.80 236.87 L196.39 237.10 L198.01 237.33 L199.66 237.55 L201.34 237.78 L203.05 238.00 L204.78 238.22 L206.55 238.43 L208.35 238.64 L210.18 238.83 L212.04 239.01 L213.93 239.18 L215.86 239.33 L217.82 239.47 L219.81 239.59 L221.84 239.69 L223.91 239.79 L226.01 239.89 L228.14 239.97 L230.32 240.06 L232.53 240.14 L234.78 240.21 L237.07 240.29 L239.40 240.36 L241.77 240.42 L244.18 240.49 L246.64 240.56 L249.14 240.62 L251.68 240.69 L254.26 240.75 L256.89 240.82 L259.57 240.89 L262.29 240.96 L265.06 241.03 L267.88 241.11 L270.75 241.18 L273.66 241.25 L276.63 241.32 L279.65 241.40 L282.73 241.46 L285.85 241.53 L289.03 241.59 L292.27 241.65 L295.56 241.71 L298.91 241.76 L302.32 241.80 L305.79 241.85 L309.32 241.89 L312.91 241.93 L316.56 241.97 L320.28 242.00 L324.06 242.04 L327.91 242.08 L331.82 242.11 L335.81 242.15 L339.86 242.18 L343.98 242.21 L348.18 242.24 L352.45 242.27 L356.79 242.30 L361.21 242.32 L365.70 242.35 L370.28 242.38 L374.93 242.40 L379.67 242.42 L384.48 242.44 L389.39 242.46 L394.37 242.48 L399.45 242.50 L404.61 242.51 L409.86 242.53 L415.21 242.55 L420.65 242.56 L426.18 242.58 L431.81 242.59 L437.53 242.61 L443.36 242.62 L449.29 242.63 L455.32 242.64 L461.46 242.65 L467.70 242.66 L474.06 242.67 L480.52 242.68 L487.10 242.69 L493.79 242.70 L500.60 242.70" fill="none" stroke="#B177DE" stroke-width="1.4" stroke-linejoin="round"/>
<path d="M103.60 42.40L108.60 47.40L103.60 52.40L98.60 47.40Z" fill="#B177DE"/>
<path d="M103.60 90.60L108.60 95.60L103.60 100.60L98.60 95.60Z" fill="#B177DE"/>
<path d="M103.30 101.73L108.30 106.73L103.30 111.73L98.30 106.73Z" fill="#B177DE"/>
<path d="M103.98 105.38L108.98 110.38L103.98 115.38L98.98 110.38Z" fill="#B177DE"/>
<path d="M103.19 107.62L108.19 112.62L103.19 117.62L98.19 112.62Z" fill="#B177DE"/>
<path d="M104.17 111.11L109.17 116.11L104.17 121.11L99.17 116.11Z" fill="#B177DE"/>
<path d="M103.01 115.47L108.01 120.47L103.01 125.47L98.01 120.47Z" fill="#B177DE"/>
<path d="M103.03 118.81L108.03 123.81L103.03 128.81L98.03 123.81Z" fill="#B177DE"/>
<path d="M103.84 122.49L108.84 127.49L103.84 132.49L98.84 127.49Z" fill="#B177DE"/>
<path d="M102.96 125.71L107.96 130.71L102.96 135.71L97.96 130.71Z" fill="#B177DE"/>
<path d="M103.53 129.10L108.53 134.10L103.53 139.10L98.53 134.10Z" fill="#B177DE"/>
<path d="M103.32 134.11L108.32 139.11L103.32 144.11L98.32 139.11Z" fill="#B177DE"/>
<path d="M103.30 136.63L108.30 141.63L103.30 146.63L98.30 141.63Z" fill="#B177DE"/>
<path d="M103.47 141.12L108.47 146.12L103.47 151.12L98.47 146.12Z" fill="#B177DE"/>
<path d="M103.61 143.83L108.61 148.83L103.61 153.83L98.61 148.83Z" fill="#B177DE"/>
<path d="M103.38 148.56L108.38 153.56L103.38 158.56L98.38 153.56Z" fill="#B177DE"/>
<path d="M103.16 150.99L108.16 155.99L103.16 160.99L98.16 155.99Z" fill="#B177DE"/>
<path d="M103.87 154.81L108.87 159.81L103.87 164.81L98.87 159.81Z" fill="#B177DE"/>
<path d="M103.55 158.88L108.55 163.88L103.55 168.88L98.55 163.88Z" fill="#B177DE"/>
<path d="M103.02 161.77L108.02 166.77L103.02 171.77L98.02 166.77Z" fill="#B177DE"/>
<path d="M103.63 165.11L108.63 170.11L103.63 175.11L98.63 170.11Z" fill="#B177DE"/>
<path d="M103.03 168.73L108.03 173.73L103.03 178.73L98.03 173.73Z" fill="#B177DE"/>
<path d="M103.35 173.66L108.35 178.66L103.35 183.66L98.35 178.66Z" fill="#B177DE"/>
<path d="M104.06 177.00L109.06 182.00L104.06 187.00L99.06 182.00Z" fill="#B177DE"/>
<path d="M103.56 180.79L108.56 185.79L103.56 190.79L98.56 185.79Z" fill="#B177DE"/>
<path d="M103.29 183.13L108.29 188.13L103.29 193.13L98.29 188.13Z" fill="#B177DE"/>
<path d="M103.11 187.39L108.11 192.39L103.11 197.39L98.11 192.39Z" fill="#B177DE"/>
<path d="M103.33 190.68L108.33 195.68L103.33 200.68L98.33 195.68Z" fill="#B177DE"/>
<path d="M102.91 194.73L107.91 199.73L102.91 204.73L97.91 199.73Z" fill="#B177DE"/>
<path d="M103.91 198.05L108.91 203.05L103.91 208.05L98.91 203.05Z" fill="#B177DE"/>
<path d="M103.13 201.34L108.13 206.34L103.13 211.34L98.13 206.34Z" fill="#B177DE"/>
<path d="M103.96 205.17L108.96 210.17L103.96 215.17L98.96 210.17Z" fill="#B177DE"/>
<path d="M103.90 207.00L108.90 212.00L103.90 217.00L98.90 212.00Z" fill="#B177DE"/>
<path d="M104.30 209.00L109.30 214.00L104.30 219.00L99.30 214.00Z" fill="#B177DE"/>
<path d="M105.50 211.00L110.50 216.00L105.50 221.00L100.50 216.00Z" fill="#B177DE"/>
<path d="M107.50 213.50L112.50 218.50L107.50 223.50L102.50 218.50Z" fill="#B177DE"/>
<path d="M111.44 216.50L116.44 221.50L111.44 226.50L106.44 221.50Z" fill="#B177DE"/>
<path d="M123.36 222.00L128.36 227.00L123.36 232.00L118.36 227.00Z" fill="#B177DE"/>
<path d="M143.21 225.50L148.21 230.50L143.21 235.50L138.21 230.50Z" fill="#B177DE"/>
<path d="M182.92 228.90L187.92 233.90L182.92 238.90L177.92 233.90Z" fill="#B177DE"/>
<path d="M302.05 233.90L307.05 238.90L302.05 243.90L297.05 238.90Z" fill="#B177DE"/>
<path d="M500.61 237.80L505.61 242.80L500.61 247.80L495.61 242.80Z" fill="#B177DE"/>
<path d="M103.60 47.40 L103.60 185.50 L103.90 186.00 L103.91 186.03 L103.91 186.05 L103.92 186.08 L103.93 186.11 L103.94 186.14 L103.94 186.17 L103.95 186.20 L103.96 186.22 L103.97 186.25 L103.98 186.28 L103.98 186.31 L103.99 186.34 L104.00 186.37 L104.01 186.40 L104.02 186.43 L104.03 186.46 L104.04 186.49 L104.05 186.52 L104.06 186.56 L104.07 186.59 L104.08 186.62 L104.09 186.65 L104.10 186.68 L104.11 186.71 L104.12 186.75 L104.13 186.78 L104.14 186.81 L104.15 186.84 L104.16 186.88 L104.17 186.91 L104.18 186.94 L104.20 186.98 L104.21 187.01 L104.22 187.04 L104.23 187.08 L104.25 187.11 L104.26 187.15 L104.27 187.18 L104.29 187.22 L104.30 187.25 L104.31 187.29 L104.33 187.32 L104.34 187.36 L104.36 187.39 L104.37 187.43 L104.39 187.47 L104.40 187.50 L104.42 187.54 L104.43 187.57 L104.45 187.61 L104.47 187.65 L104.48 187.68 L104.50 187.72 L104.52 187.76 L104.54 187.80 L104.55 187.83 L104.57 187.87 L104.59 187.91 L104.61 187.95 L104.63 187.98 L104.65 188.02 L104.67 188.06 L104.69 188.10 L104.71 188.14 L104.73 188.17 L104.75 188.21 L104.77 188.25 L104.80 188.29 L104.82 188.33 L104.84 188.37 L104.87 188.41 L104.89 188.45 L104.91 188.49 L104.94 188.53 L104.96 188.57 L104.99 188.61 L105.01 188.65 L105.04 188.69 L105.07 188.73 L105.10 188.77 L105.12 188.81 L105.15 188.85 L105.18 188.89 L105.21 188.93 L105.24 188.97 L105.27 189.01 L105.30 189.05 L105.33 189.09 L105.36 189.13 L105.40 189.17 L105.43 189.21 L105.46 189.26 L105.50 189.30 L105.53 189.34 L105.57 189.38 L105.60 189.42 L105.64 189.47 L105.68 189.51 L105.72 189.55 L105.76 189.60 L105.79 189.64 L105.83 189.69 L105.88 189.73 L105.92 189.78 L105.96 189.82 L106.00 189.87 L106.05 189.92 L106.09 189.96 L106.13 190.01 L106.18 190.06 L106.23 190.10 L106.28 190.15 L106.32 190.20 L106.37 190.25 L106.42 190.30 L106.47 190.35 L106.53 190.40 L106.58 190.44 L106.63 190.49 L106.69 190.54 L106.74 190.59 L106.80 190.64 L106.86 190.69 L106.92 190.74 L106.97 190.79 L107.04 190.84 L107.10 190.89 L107.16 190.94 L107.22 190.99 L107.29 191.04 L107.35 191.09 L107.42 191.14 L107.49 191.19 L107.56 191.24 L107.63 191.29 L107.70 191.34 L107.78 191.40 L107.85 191.45 L107.93 191.50 L108.00 191.55 L108.08 191.60 L108.16 191.65 L108.24 191.71 L108.33 191.76 L108.41 191.81 L108.50 191.87 L108.58 191.92 L108.67 191.97 L108.76 192.02 L108.85 192.08 L108.95 192.13 L109.04 192.19 L109.14 192.24 L109.24 192.29 L109.34 192.35 L109.44 192.40 L109.54 192.46 L109.65 192.51 L109.76 192.56 L109.87 192.62 L109.98 192.67 L110.09 192.73 L110.20 192.78 L110.32 192.84 L110.44 192.89 L110.56 192.95 L110.68 193.00 L110.81 193.06 L110.94 193.11 L111.07 193.16 L111.20 193.22 L111.33 193.27 L111.47 193.33 L111.61 193.38 L111.75 193.43 L111.89 193.48 L112.04 193.54 L112.19 193.59 L112.34 193.64 L112.50 193.69 L112.65 193.74 L112.81 193.79 L112.97 193.84 L113.14 193.89 L113.31 193.94 L113.48 194.00 L113.65 194.05 L113.83 194.11 L114.01 194.16 L114.19 194.22 L114.38 194.29 L114.57 194.35 L114.76 194.42 L114.96 194.49 L115.16 194.56 L115.36 194.63 L115.57 194.71 L115.78 194.80 L115.99 194.89 L116.21 194.98 L116.43 195.07 L116.66 195.17 L116.89 195.27 L117.12 195.37 L117.36 195.48 L117.60 195.58 L117.85 195.69 L118.10 195.80 L118.35 195.92 L118.61 196.03 L118.88 196.14 L119.14 196.26 L119.42 196.37 L119.70 196.49 L119.98 196.60 L120.27 196.72 L120.56 196.83 L120.86 196.95 L121.16 197.06 L121.47 197.17 L121.78 197.28 L122.10 197.39 L122.42 197.50 L122.75 197.60 L123.09 197.71 L123.43 197.81 L123.78 197.91 L124.13 198.00 L124.49 198.10 L124.86 198.20 L125.23 198.29 L125.61 198.38 L126.00 198.48 L126.39 198.57 L126.79 198.66 L127.19 198.76 L127.61 198.85 L128.03 198.95 L128.46 199.05 L128.89 199.14 L129.33 199.25 L129.78 199.35 L130.24 199.46 L130.71 199.57 L131.18 199.68 L131.67 199.79 L132.16 199.91 L132.66 200.03 L133.17 200.14 L133.68 200.27 L134.21 200.39 L134.75 200.51 L135.29 200.64 L135.85 200.76 L136.41 200.88 L136.98 201.01 L137.57 201.13 L138.16 201.26 L138.77 201.38 L139.38 201.51 L140.01 201.63 L140.65 201.75 L141.29 201.87 L141.95 201.99 L142.62 202.10 L143.31 202.22 L144.00 202.33 L144.71 202.44 L145.43 202.55 L146.16 202.65 L146.90 202.76 L147.66 202.86 L148.43 202.96 L149.21 203.07 L150.01 203.17 L150.82 203.27 L151.65 203.37 L152.49 203.48 L153.34 203.58 L154.21 203.69 L155.10 203.80 L156.00 203.91 L156.91 204.02 L157.84 204.13 L158.79 204.25 L159.76 204.37 L160.74 204.49 L161.74 204.62 L162.75 204.75 L163.79 204.88 L164.84 205.02 L165.91 205.16 L167.00 205.30 L168.10 205.45 L169.23 205.59 L170.38 205.74 L171.54 205.88 L172.73 206.03 L173.94 206.18 L175.17 206.33 L176.42 206.48 L177.69 206.62 L178.98 206.77 L180.30 206.91 L181.64 207.06 L183.00 207.20 L184.39 207.34 L185.80 207.49 L187.24 207.64 L188.70 207.80 L190.18 207.96 L191.70 208.11 L193.24 208.27 L194.80 208.43 L196.39 208.59 L198.01 208.75 L199.66 208.91 L201.34 209.06 L203.05 209.21 L204.78 209.36 L206.55 209.50 L208.35 209.63 L210.18 209.76 L212.04 209.89 L213.93 210.00 L215.86 210.11 L217.82 210.20 L219.81 210.29 L221.84 210.37 L223.91 210.45 L226.01 210.52 L228.14 210.59 L230.32 210.65 L232.53 210.71 L234.78 210.77 L237.07 210.83 L239.40 210.88 L241.77 210.94 L244.18 210.99 L246.64 211.04 L249.14 211.09 L251.68 211.14 L254.26 211.19 L256.89 211.24 L259.57 211.29 L262.29 211.35 L265.06 211.40 L267.88 211.46 L270.75 211.52 L273.66 211.58 L276.63 211.64 L279.65 211.71 L282.73 211.77 L285.85 211.84 L289.03 211.90 L292.27 211.96 L295.56 212.01 L298.91 212.06 L302.32 212.10 L305.79 212.14 L309.32 212.18 L312.91 212.21 L316.56 212.25 L320.28 212.28 L324.06 212.31 L327.91 212.34 L331.82 212.37 L335.81 212.40 L339.86 212.42 L343.98 212.45 L348.18 212.48 L352.45 212.50 L356.79 212.52 L361.21 212.55 L365.70 212.57 L370.28 212.59 L374.93 212.61 L379.67 212.63 L384.48 212.65 L389.39 212.66 L394.37 212.68 L399.45 212.70 L404.61 212.71 L409.86 212.73 L415.21 212.74 L420.65 212.76 L426.18 212.77 L431.81 212.79 L437.53 212.80 L443.36 212.81 L449.29 212.83 L455.32 212.84 L461.46 212.85 L467.70 212.86 L474.06 212.87 L480.52 212.88 L487.10 212.89 L493.79 212.89 L500.60 212.90" fill="none" stroke="#CC9900" stroke-width="1.4" stroke-linejoin="round"/>
<path d="M98.00 47.40L106.40 42.90L106.40 51.90Z" fill="#CC9900"/>
<path d="M98.00 86.00L106.40 81.50L106.40 90.50Z" fill="#CC9900"/>
<path d="M98.00 103.70L106.40 99.20L106.40 108.20Z" fill="#CC9900"/>
<path d="M97.84 111.58L106.24 107.08L106.24 116.08Z" fill="#CC9900"/>
<path d="M98.62 114.92L107.02 110.42L107.02 119.42Z" fill="#CC9900"/>
<path d="M98.19 118.37L106.59 113.87L106.59 122.87Z" fill="#CC9900"/>
<path d="M97.58 121.62L105.98 117.12L105.98 126.12Z" fill="#CC9900"/>
<path d="M97.66 124.72L106.06 120.22L106.06 129.22Z" fill="#CC9900"/>
<path d="M97.69 128.90L106.09 124.40L106.09 133.40Z" fill="#CC9900"/>
<path d="M97.98 133.19L106.38 128.69L106.38 137.69Z" fill="#CC9900"/>
<path d="M98.04 136.30L106.44 131.80L106.44 140.80Z" fill="#CC9900"/>
<path d="M97.96 140.10L106.36 135.60L106.36 144.60Z" fill="#CC9900"/>
<path d="M98.01 143.92L106.41 139.42L106.41 148.42Z" fill="#CC9900"/>
<path d="M98.64 147.57L107.04 143.07L107.04 152.07Z" fill="#CC9900"/>
<path d="M97.73 150.68L106.13 146.18L106.13 155.18Z" fill="#CC9900"/>
<path d="M98.22 154.92L106.62 150.42L106.62 159.42Z" fill="#CC9900"/>
<path d="M98.66 157.72L107.06 153.22L107.06 162.22Z" fill="#CC9900"/>
<path d="M98.42 161.77L106.82 157.27L106.82 166.27Z" fill="#CC9900"/>
<path d="M97.42 165.47L105.82 160.97L105.82 169.97Z" fill="#CC9900"/>
<path d="M98.59 168.78L106.99 164.28L106.99 173.28Z" fill="#CC9900"/>
<path d="M97.60 171.79L106.00 167.29L106.00 176.29Z" fill="#CC9900"/>
<path d="M97.88 176.17L106.28 171.67L106.28 180.67Z" fill="#CC9900"/>
<path d="M97.32 178.89L105.72 174.39L105.72 183.39Z" fill="#CC9900"/>
<path d="M97.92 183.16L106.32 178.66L106.32 187.66Z" fill="#CC9900"/>
<path d="M98.30 184.50L106.70 180.00L106.70 189.00Z" fill="#CC9900"/>
<path d="M98.70 186.00L107.10 181.50L107.10 190.50Z" fill="#CC9900"/>
<path d="M99.90 187.50L108.30 183.00L108.30 192.00Z" fill="#CC9900"/>
<path d="M101.90 189.50L110.30 185.00L110.30 194.00Z" fill="#CC9900"/>
<path d="M105.84 193.50L114.24 189.00L114.24 198.00Z" fill="#CC9900"/>
<path d="M117.76 198.30L126.16 193.80L126.16 202.80Z" fill="#CC9900"/>
<path d="M137.61 201.80L146.01 197.30L146.01 206.30Z" fill="#CC9900"/>
<path d="M177.32 204.90L185.72 200.40L185.72 209.40Z" fill="#CC9900"/>
<path d="M296.45 209.30L304.85 204.80L304.85 213.80Z" fill="#CC9900"/>
<path d="M495.01 212.70L503.41 208.20L503.41 217.20Z" fill="#CC9900"/></g>
<g></g>
<path d="M60.3 12.80H541.05M60.3 362.85H541.05M63.95 12.80V362.85M540.10 12.80V362.85" fill="none" stroke="#4a4a4a" stroke-width="1.9"/>
<path d="M103.50 362.85V368.85 M103.50 12.80V18.80 M137.81 362.85V366.35 M137.81 12.80V16.30 M172.12 362.85V368.85 M172.12 12.80V18.80 M206.43 362.85V366.35 M206.43 12.80V16.30 M240.74 362.85V368.85 M240.74 12.80V18.80 M275.05 362.85V366.35 M275.05 12.80V16.30 M309.36 362.85V368.85 M309.36 12.80V18.80 M343.67 362.85V366.35 M343.67 12.80V16.30 M377.98 362.85V368.85 M377.98 12.80V18.80 M412.29 362.85V366.35 M412.29 12.80V16.30 M446.60 362.85V368.85 M446.60 12.80V18.80 M480.91 362.85V366.35 M480.91 12.80V16.30 M515.22 362.85V368.85 M515.22 12.80V18.80 M63.95 328.20H57.55 M540.10 328.20H533.70 M63.95 293.10H60.45 M540.10 293.10H536.60 M63.95 258.00H57.55 M540.10 258.00H533.70 M63.95 222.90H60.45 M540.10 222.90H536.60 M63.95 187.80H57.55 M540.10 187.80H533.70 M63.95 152.70H60.45 M540.10 152.70H536.60 M63.95 117.60H57.55 M540.10 117.60H533.70 M63.95 82.50H60.45 M540.10 82.50H536.60 M63.95 47.40H57.55 M540.10 47.40H533.70" fill="none" stroke="#4a4a4a" stroke-width="1.5"/>
<g fill="#111" style="font-family:&quot;Liberation Serif&quot;,serif"><text transform="translate(103.60,387.5) scale(1,1.04)" text-anchor="middle" font-size="17.2">0.0</text>
<text transform="translate(172.22,387.5) scale(1,1.04)" text-anchor="middle" font-size="17.2">0.2</text>
<text transform="translate(240.84,387.5) scale(1,1.04)" text-anchor="middle" font-size="17.2">0.4</text>
<text transform="translate(309.46,387.5) scale(1,1.04)" text-anchor="middle" font-size="17.2">0.6</text>
<text transform="translate(378.08,387.5) scale(1,1.04)" text-anchor="middle" font-size="17.2">0.8</text>
<text transform="translate(446.70,387.5) scale(1,1.04)" text-anchor="middle" font-size="17.2">1.0</text>
<text transform="translate(515.32,387.5) scale(1,1.04)" text-anchor="middle" font-size="17.2">1.2</text>
<text transform="translate(52.6,334.40) scale(1,1.04)" text-anchor="end" font-size="17.2">0.2</text>
<text transform="translate(52.6,264.20) scale(1,1.04)" text-anchor="end" font-size="17.2">0.4</text>
<text transform="translate(52.6,194.00) scale(1,1.04)" text-anchor="end" font-size="17.2">0.6</text>
<text transform="translate(52.6,123.80) scale(1,1.04)" text-anchor="end" font-size="17.2">0.8</text>
<text transform="translate(52.6,53.60) scale(1,1.04)" text-anchor="end" font-size="17.2">1.0</text>
<text x="194.2" y="420.8" font-size="20.4">Relaxation time (×10<tspan dx="-1.0" dy="-8.2" font-size="13.4">4</tspan><tspan dx="0.2" dy="8.2">day)</tspan></text>
<text transform="translate(18.9,205.5) rotate(-90)" font-size="20.4">E/E<tspan dy="5.6" font-size="13.6">0</tspan></text>
<text transform="translate(317.7,38.6) scale(1,1.0)" text-anchor="middle" font-size="17.1">Dose</text>
<text transform="translate(393.6,38.6) scale(1,1.0)" text-anchor="middle" font-size="17.1">Fitted curve</text>
<text transform="translate(468.5,38.6) scale(1,1.0)" text-anchor="middle" font-size="17.1">Data</text>
<text transform="translate(320.9,59.5) scale(1,1.0)" text-anchor="middle" font-size="17.1">0 MGy</text>
<text transform="translate(319.1,80.6) scale(1,1.0)" text-anchor="middle" font-size="17.1">0.356 MGy</text>
<text transform="translate(321.6,102.1) scale(1,1.0)" text-anchor="middle" font-size="17.1">0.713 MGy</text>
<text transform="translate(321.6,123.1) scale(1,1.0)" text-anchor="middle" font-size="17.1">1.43 MGy</text>
<text transform="translate(321.4,144.6) scale(1,1.0)" text-anchor="middle" font-size="17.1">2.14 MGy</text>
<text transform="translate(321.4,165.5) scale(1,1.0)" text-anchor="middle" font-size="17.1">3.55 MGy</text></g>
<g><path d="M388.7 53.7H428.2" stroke="#515151" stroke-width="1.5"/>
<rect x="469.10" y="50.10" width="7" height="7" fill="#515151"/>
<path d="M388.7 74.9H428.2" stroke="#F14040" stroke-width="1.5"/>
<circle cx="472.60" cy="74.70" r="3.8" fill="#F14040"/>
<path d="M388.7 96.2H428.2" stroke="#1A6FDF" stroke-width="1.5"/>
<path d="M472.60 90.87L477.10 98.87L468.10 98.87Z" fill="#1A6FDF"/>
<path d="M388.7 117.4H428.2" stroke="#37AD6B" stroke-width="1.5"/>
<path d="M472.60 123.53L477.10 115.53L468.10 115.53Z" fill="#37AD6B"/>
<path d="M388.7 138.4H428.2" stroke="#B177DE" stroke-width="1.5"/>
<path d="M472.60 133.50L477.60 138.50L472.60 143.50L467.60 138.50Z" fill="#B177DE"/>
<path d="M388.7 159.6H428.2" stroke="#CC9900" stroke-width="1.5"/>
<path d="M467.00 159.60L475.40 155.10L475.40 164.10Z" fill="#CC9900"/></g>
</svg>
</body></html>
